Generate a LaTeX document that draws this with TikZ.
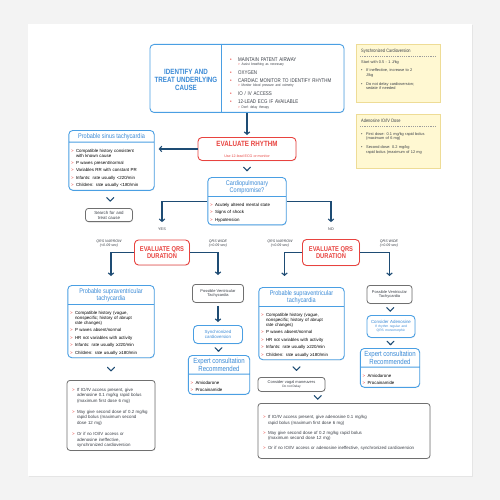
\documentclass[tikz,border=0pt]{standalone}
\usepackage{fontspec}
\setmainfont{Liberation Sans}
\newfontfamily\condf{Liberation Sans}[FakeStretch=0.82]
\usetikzlibrary{arrows.meta, positioning, shapes.multipart, shadows, calc}

\definecolor{bluec}{HTML}{4A9FE3}
\definecolor{bluet}{HTML}{3A8AD6}
\definecolor{redc}{HTML}{E8433F}
\definecolor{navy}{HTML}{1E4C74}
\definecolor{greyc}{HTML}{707070}
\definecolor{textc}{HTML}{3A3F47}
\definecolor{notefill}{HTML}{FFF8D2}
\definecolor{noteline}{HTML}{EEDC96}
\definecolor{bgc}{HTML}{F3F3F3}

\newcommand{\ltxt}{\fontsize{4.4}{5}\selectfont}
\newcommand{\stxt}{\fontsize{3.6}{4.1}\selectfont}
\newcommand{\ttxt}{\condf\fontsize{6.8}{7.4}\selectfont}
\newcommand{\etxt}{\condf\fontsize{7.4}{8}\selectfont}
\newcommand{\htxt}{\condf\fontsize{7.6}{8.4}\selectfont\bfseries}
\newcommand{\itm}[1]{\par\vspace{2.4pt}\noindent\hangindent=5pt\hangafter=1\makebox[5pt][l]{\textcolor{redc}{>}}#1\par}
\newcommand{\nitm}[1]{\par\vspace{4pt}\noindent\hangindent=5pt\hangafter=1\makebox[5pt][l]{\textbullet}#1\par}
\newcommand{\citm}[1]{\par\vspace{2.6pt}\noindent\hangindent=8pt\hangafter=1\makebox[8pt][l]{\textcolor{redc}{\textbullet}}#1\par}
\newcommand{\csub}[1]{{\stxt\noindent\hspace*{8pt}\textcolor{redc}{>} #1\par}}
\newcommand{\chev}[2]{\draw[chev] ($(#1.south)!0.5!(#2.north)$) +(-3.5pt,1.8pt) -- +(0pt,-1.8pt) -- +(3.5pt,1.8pt);}

\begin{document}
\begin{tikzpicture}[x=1pt, y=-1pt,
    shade/.style={drop shadow={opacity=0.12, shadow xshift=0.5pt, shadow yshift=-0.8pt}},
    card/.style={draw=bluec, line width=0.9pt, rounded corners=4pt, fill=white, shade},
    entity/.style={card, rectangle split, rectangle split parts=2,
                rectangle split draw splits=true, align=left, font=\ltxt,
                text=textc, inner sep=2.2pt},
    alert/.style={draw=redc, line width=0.9pt, rounded corners=4pt, fill=white,
                text=redc, align=center, shade},
    greybox/.style={draw=greyc, line width=0.8pt, rounded corners=3pt, fill=white,
                text=textc, font=\ltxt, align=center, inner sep=2.5pt, shade},
    note/.style={draw=noteline, line width=0.4pt, fill=notefill, text=textc,
                font=\fontsize{3.9}{4.6}\selectfont, align=left, text width=74pt,
                inner sep=5pt, shade},
    notedash/.style={draw=greyc!70, line width=0.4pt, dashed, dash pattern=on 1.2pt off 1pt},
    arr/.style={draw=navy, line width=1.1pt, -{Straight Barb[length=2.4pt, width=5.5pt]}},
    chev/.style={draw=navy, line width=1.1pt, line cap=round, line join=round},
    qlabel/.style={font=\fontsize{3.6}{4.2}\selectfont\itshape, text=textc, align=center},
    yn/.style={font=\fontsize{3.8}{4.2}\selectfont, text=textc}
]
    \useasboundingbox (0,0) rectangle (500,500);
    \fill[bgc] (0,0) rectangle (500,500);
    \fill[white, shade] (28,24) rectangle (472,476);

    % top block
    \node[card, minimum width=194pt, minimum height=68pt, anchor=north] (cause) at (247,44) {};
    \draw[draw=bluec, line width=0.9pt] ([xshift=72pt]cause.north west) -- ([xshift=72pt]cause.south west);
    \node[font=\htxt, text=bluet, align=center] (causehead) at (186,80) {IDENTIFY AND\\TREAT UNDERLYING\\CAUSE};
    \node[anchor=west, text width=112pt, font=\condf\fontsize{5.4}{5.9}\selectfont, text=textc, align=left, inner sep=0pt] (causelist) at (230,81)
        {\citm{MAINTAIN PATENT AIRWAY}\csub{Assist breathing as necessary}
         \citm{OXYGEN}
         \citm{CARDIAC MONITOR TO IDENTIFY RHYTHM}\csub{Monitor blood pressure and oximetry}
         \citm{IO / IV ACCESS}
         \citm{12-LEAD ECG IF AVAILABLE}\csub{Don't delay therapy}};

    % dose notes
    \node[note, anchor=north west] (note1) at (356,44)
        {{\condf\fontsize{4.8}{5}\selectfont Synchronized Cardioversion\par}\vspace{6pt}
         Start with 0.5 - 1 J/kg
         \nitm{If ineffective, increase to 2\newline J/kg}
         \nitm{Do not delay cardioversion;\newline sedate if needed}\par\vspace{7pt}};
    \draw[notedash] ([xshift=4pt,yshift=-12.5pt]note1.north west) -- ([xshift=-4pt,yshift=-12.5pt]note1.north east);
    \node[note, anchor=north west] (note2) at (356,114)
        {{\condf\fontsize{4.8}{5}\selectfont Adenosine IO/IV Dose\par}\vspace{4pt}
         \nitm{First dose: 0.1 mg/kg rapid bolus\newline (maximum of 6 mg)}
         \nitm{Second dose: 0.2 mg/kg\newline rapid bolus (maximum of 12 mg}\par\vspace{9pt}};
    \draw[notedash] ([xshift=4pt,yshift=-12.5pt]note2.north west) -- ([xshift=-4pt,yshift=-12.5pt]note2.north east);

    % rhythm
    \node[alert, minimum width=98pt, minimum height=23pt, anchor=north] (rhythm) at (247,137)
        {{\htxt EVALUATE RHYTHM}\\[-1pt]{\stxt Use 12-lead ECG or monitor}};

    \node[entity, text width=81pt, anchor=north] (sinus) at (111.5,130)
        {\nodepart{one}{\ttxt\color{bluet}\centering Probable sinus tachycardia\par}
         \nodepart{two}\itm{Compatible history consistent\newline with known cause}\itm{P waves present/normal}
         \itm{Variables RR with constant PR}\itm{Infants: rate usually <220/min}
         \itm{Children: rate usually <180/min}};
    \node[greybox, text width=42pt, anchor=north] (search) at (109,208) {Search for and\\treat cause};

    \node[entity, text width=74pt, anchor=north] (cardio) at (247,177)
        {\nodepart{one}{\ttxt\color{bluet}\centering Cardiopulmonary\\Compromise?\par}
         \nodepart{two}\itm{Acutely altered mental state}\itm{Signs of shock}\itm{Hypotension}};
    \node[yn] (yes) at (162,229) {YES};
    \node[yn] (no) at (331,229) {NO};

    % qrs split
    \node[alert, font=\condf\fontsize{7}{7.8}\selectfont\bfseries, minimum width=55pt, minimum height=25pt] (qrsL) at (162,252.5) {EVALUATE QRS\\DURATION};
    \node[alert, font=\condf\fontsize{7}{7.8}\selectfont\bfseries, minimum width=57pt, minimum height=26pt] (qrsR) at (331,252.5) {EVALUATE QRS\\DURATION};
    \node[qlabel] (narrowL) at (109,244) {QRS NARROW\\(<0.09 sec)};
    \node[qlabel] (wideL) at (218,244) {QRS WIDE\\(>0.09 sec)};
    \node[qlabel] (narrowR) at (280,244) {QRS NARROW\\(<0.09 sec)};
    \node[qlabel] (wideR) at (389,244) {QRS WIDE\\(>0.09 sec)};

    % narrow, left
    \node[entity, text width=82pt, anchor=north] (svtL) at (111,285)
        {\nodepart{one}{\ttxt\color{bluet}\centering Probable supraventricular\\tachycardia\par}
         \nodepart{two}\itm{Compatible history (vague,\newline nonspecific; history of abrupt\newline rate changes)}
         \itm{P waves absent/normal}\itm{HR not variables with activity}
         \itm{Infants: rate usually ≥220/min}\itm{Children: rate usually ≥180/min}};
    \node[greybox, font=\fontsize{4.4}{5.7}\selectfont, text width=78pt, align=left, minimum height=70pt, inner xsep=5pt, anchor=north] (doseL) at (111,380)
        {\itm{If IO/IV access present, give\newline adenosine 0.1 mg/kg rapid bolus\newline (maximum first dose 6 mg)}\vspace{2.6pt}
         \itm{May give second dose of 0.2 mg/kg\newline rapid bolus (maximum second\newline dose 12 mg)}\vspace{2.6pt}
         \itm{Or if no IO/IV access or\newline adenosine ineffective,\newline synchronized cardioversion}};

    % wide, left
    \node[greybox, font=\fontsize{4}{4.6}\selectfont, minimum width=51pt, minimum height=18pt, anchor=north] (vtL) at (218,284)
        {Possible Ventricular\\Tachycardia};
    \node[card, text=bluet, font=\ltxt, align=center, minimum width=49pt, minimum height=18pt, anchor=north] (syncL) at (218,325)
        {Synchronized\\cardioversion};
    \node[entity, text width=57pt, anchor=north] (expertL) at (219,355)
        {\nodepart{one}{\etxt\color{bluet}\centering Expert consultation\\Recommended\par}
         \nodepart{two}\itm{Amiodarone}\itm{Procainamide}};

    % narrow, right
    \node[entity, text width=81pt, anchor=north] (svtR) at (301.5,287)
        {\nodepart{one}{\ttxt\color{bluet}\centering Probable supraventricular\\tachycardia\par}
         \nodepart{two}\itm{Compatible history (vague,\newline nonspecific; history of abrupt\newline rate changes)}
         \itm{P waves absent/normal}\itm{HR not variables with activity}
         \itm{Infants: rate usually ≥220/min}\itm{Children: rate usually ≥180/min}};
    \node[greybox, font=\fontsize{4}{4.6}\selectfont, minimum width=67pt, minimum height=14pt, inner sep=1.5pt, anchor=north] (vagal) at (291.5,377)
        {Consider vagal maneuvers\\[-1pt]{\fontsize{3.2}{3.6}\selectfont Do not Delay}};
    \node[greybox, font=\fontsize{4.4}{5.2}\selectfont, text width=162pt, align=left, minimum height=55pt, inner xsep=5pt, anchor=north] (doseR) at (344,403)
        {\itm{If IO/IV access present, give adenosine 0.1 mg/kg\newline rapid bolus (maximum first dose 6 mg)}\vspace{2.6pt}
         \itm{May give second dose of 0.2 mg/kg rapid bolus\newline (maximum second dose 12 mg)}\vspace{2.6pt}
         \itm{Or if no IO/IV access or adenosine ineffective, synchronized cardioversion}};

    % wide, right
    \node[greybox, font=\fontsize{4}{4.6}\selectfont, minimum width=45pt, minimum height=18pt, anchor=north] (vtR) at (389.5,285)
        {Possible Ventricular\\Tachycardia};
    \node[card, text=bluet, font=\ltxt, text width=44pt, minimum height=22pt, inner sep=2pt, anchor=north] (adenos) at (391,315)
        {\centering Consider Adenosine\par{\fontsize{3.3}{3.8}\selectfont If rhythm regular and\\QRS monomorphic\par}};
    \node[entity, text width=55pt, anchor=north] (expertR) at (390,348)
        {\nodepart{one}{\etxt\color{bluet}\centering Expert consultation\\Recommended\par}
         \nodepart{two}\itm{Amiodarone}\itm{Procainamide}};

    % connectors
    \draw[arr, shorten >=2pt] (cause.south) -- (rhythm.north);
    \draw[arr, shorten >=4pt] (rhythm.west) -- (rhythm.west -| sinus.east);
    \draw[arr, shorten >=2pt] (cardio.west) -| (yes.north);
    \draw[arr, shorten >=2pt] (cardio.east) -| (no.north);
    \draw[arr, shorten >=9pt] (qrsL.west) -| (svtL.north);
    \draw[arr, shorten >=9pt] (qrsL.east) -| (vtL.north);
    \draw[arr, shorten >=11pt] (qrsR.west) -| ([xshift=-17pt]svtR.north);
    \draw[arr, shorten >=9pt] (qrsR.east) -| (vtR.north);
    \draw[arr, shorten <=3pt, shorten >=3pt] (vtL.south) -- (syncL.north);

    \chev{rhythm}{cardio}
    \chev{sinus}{search}
    \chev{svtL}{doseL}
    \chev{syncL}{expertL}
    \chev{svtR}{vagal}
    \chev{vagal}{doseR}
    \chev{vtR}{adenos}
    \chev{adenos}{expertR}
\end{tikzpicture}
\end{document}
